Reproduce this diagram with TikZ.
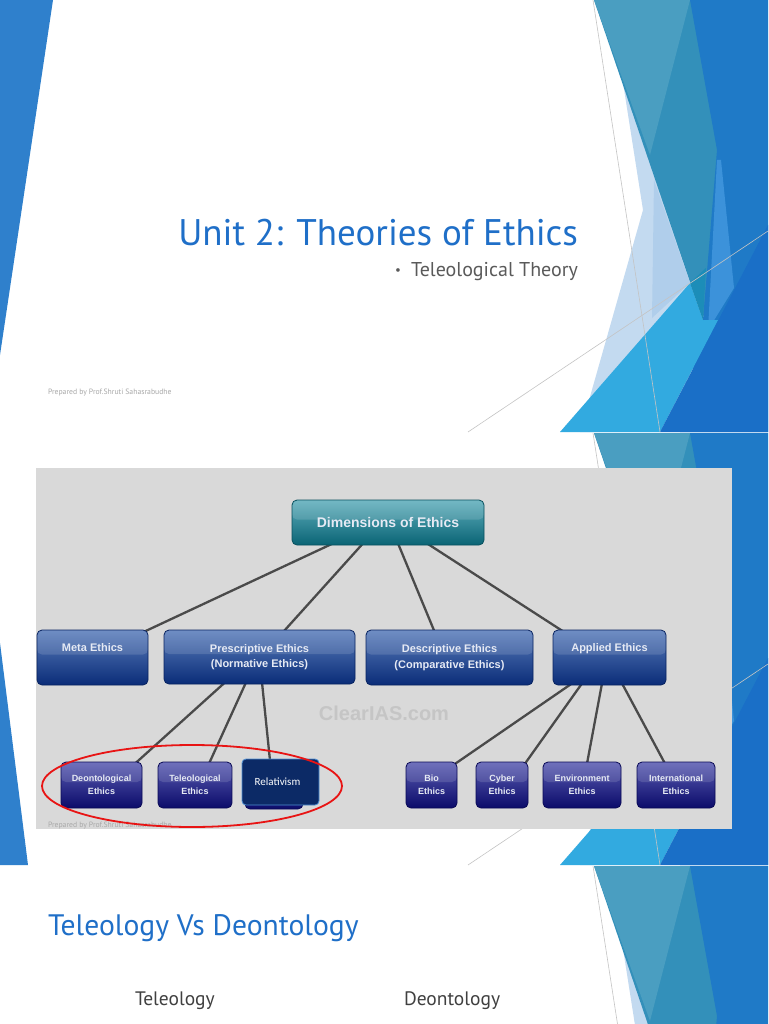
\documentclass[tikz,border=0pt]{standalone}
\usepackage{fontspec}
\setmainfont{PT Sans}
\newfontfamily\arialf{Liberation Sans}
\newfontfamily\calibf{Carlito}
\pgfdeclarelayer{back}
\pgfdeclarelayer{mid}
\pgfsetlayers{back,mid,main}
\definecolor{palec}{HTML}{C3DAF0}
\definecolor{palem}{HTML}{B0CEEB}
\definecolor{tealdk}{HTML}{3390BA}
\definecolor{teallt}{HTML}{4A9EC1}
\definecolor{bluem}{HTML}{1F7AC7}
\definecolor{bluelt}{HTML}{3C92DA}
\definecolor{cyanc}{HTML}{32AAE0}
\definecolor{tealcy}{HTML}{1C8DB8}
\definecolor{blued}{HTML}{1A6FC7}
\definecolor{greyln}{HTML}{C4C4C4}
\definecolor{leftb}{HTML}{2F80CC}
\definecolor{titleblue}{HTML}{1F6FC8}
\definecolor{subgrey}{HTML}{5A5A5A}
\definecolor{prepgrey}{HTML}{A8A8A8}
\definecolor{picgrey}{HTML}{D9D9D9}
\definecolor{wmgrey}{HTML}{C5C5C5}
\definecolor{connc}{HTML}{4A4A4A}
\definecolor{ringred}{HTML}{E81414}
\definecolor{navyA}{HTML}{5A5CB2}
\definecolor{navyB}{HTML}{17177E}
\definecolor{navyC}{HTML}{0B0B6A}
\definecolor{blueA}{HTML}{5A7DBB}
\definecolor{blueB}{HTML}{163F8F}
\definecolor{blueC}{HTML}{0A2C78}
\definecolor{tealA}{HTML}{5FAEBC}
\definecolor{tealB}{HTML}{14788A}
\definecolor{tealC}{HTML}{0A6475}
\definecolor{relfill}{HTML}{0C2A66}
\definecolor{relborder}{HTML}{4F8FD2}
\definecolor{boxtext}{HTML}{E6EAF4}
\definecolor{bodytext}{HTML}{404040}
\newcommand\facetdeco{%
  \fill[palec] (610,0) -- (643,210) -- (580,432) -- (768,432) -- (768,0) -- cycle;
  \fill[tealdk] (594,0) -- (748,0) -- (703,320) -- cycle;
  \fill[teallt] (594,0) -- (690,0) -- (650,155) -- cycle;
  \fill[palem] (654,180) -- (690,283) -- (652,318) -- cycle;
  \fill[bluem] (690,0) -- (768,0) -- (768,432) -- (680,432) -- (703,320) -- (717,150) -- cycle;
  \fill[bluelt] (717,160) -- (721,160) -- (734,288) -- (708,330) -- cycle;
  \fill[cyanc] (560,432) -- (690,283) -- (703,320) -- (718,320) -- (660,432) -- cycle;
  \fill[tealcy] (690,283) -- (706,268) -- (703,320) -- cycle;
  \fill[blued] (660,432) -- (768,225) -- (768,432) -- cycle;
  \draw[greyln, line width=0.6pt] (593,0) -- (660,432);
  \draw[greyln, line width=0.6pt] (468,432) -- (768,231);
}
\begin{document}
\begin{tikzpicture}[x=1pt,y=-1pt,
  txt/.style={inner sep=0pt, outer sep=0pt},
  gloss/.style={path picture={\fill[white, opacity=0.13]
      (path picture bounding box.north west) rectangle ([yshift=3pt]path picture bounding box.east);}},
  topbox/.style={rounded corners=5pt, draw=blueC!80!black, line width=0.8pt,
    top color=blueA, middle color=blueB, bottom color=blueC, text=boxtext, gloss,
    font=\arialf\bfseries\fontsize{11}{15.5}\selectfont, align=center, inner sep=0pt,
    minimum height=55pt},
  lowbox/.style={rounded corners=5pt, draw=navyC!80!black, line width=0.8pt,
    top color=navyA, middle color=navyB, bottom color=navyC, text=boxtext, gloss,
    font=\arialf\bfseries\fontsize{9}{13}\selectfont, align=center, inner sep=0pt,
    minimum height=46pt},
  dimbox/.style={rounded corners=5pt, draw=tealC!80!black, line width=0.8pt,
    top color=tealA, middle color=tealB, bottom color=tealC, text=boxtext, gloss,
    font=\arialf\bfseries\fontsize{14}{16}\selectfont, align=center, inner sep=0pt,
    minimum height=45pt, minimum width=192pt},
  relbox/.style={rounded corners=4pt, draw=relborder, line width=0.8pt, fill=relfill,
    minimum width=77pt, minimum height=46pt, inner sep=0pt, text=white,
    font=\calibf\fontsize{11}{13}\selectfont},
  conn/.style={draw=connc, line width=2.3pt},
]
\useasboundingbox (0,0) rectangle (768,1024);
\begin{pgfonlayer}{back}
\fill[white] (0,0) rectangle (768,1024);
% slide 1
\begin{scope}
  \clip (0,0) rectangle (768,432);
  \facetdeco
  \fill[leftb] (0,0) -- (53,0) -- (0,355) -- cycle;
\end{scope}
% slide 2
\begin{scope}[shift={(0,433)}]
  \clip (0,0) rectangle (768,432);
  \facetdeco
  \fill[leftb] (0,210) -- (28,432) -- (0,432) -- cycle;
\end{scope}
\fill[picgrey] (36,468) rectangle (732,829);
% slide 3
\begin{scope}[shift={(0,866)}]
  \clip (0,0) rectangle (768,158);
  \facetdeco
\end{scope}
\end{pgfonlayer}

% ---------------- slide 1 text ----------------
\node[txt, anchor=base east, text=titleblue, font=\fontsize{37}{40}\selectfont] (title) at (578,245) {Unit 2: Theories of Ethics};
\node[txt, anchor=base east, text=subgrey, font=\fontsize{20}{22}\selectfont] (sub) at (578,276) {Teleological Theory};
\node[txt, anchor=base east, text=subgrey, font=\fontsize{13}{14}\selectfont] (bul) at (401,274) {\textbullet};
\node[txt, anchor=base west, text=prepgrey, font=\fontsize{7.7}{9}\selectfont] (prep1) at (48,394) {Prepared by Prof.Shruti Sahasrabudhe};

% ---------------- slide 2 diagram ----------------
\node[txt, text=wmgrey, font=\arialf\bfseries\fontsize{20}{21}\selectfont] (wm) at (384,713) {ClearIAS.com};
\path
  (388,522.5) node[dimbox] (dim) {Dimensions of Ethics}
  (92.5,657.5) node[topbox, minimum width=111pt] (meta) {Meta Ethics\\\strut}
  (259.5,657) node[topbox, minimum width=191pt, minimum height=54pt] (presc) {Prescriptive Ethics\\(Normative Ethics)}
  (449.5,657.5) node[topbox, minimum width=167pt] (desc) {Descriptive Ethics\\(Comparative Ethics)}
  (609.5,657.5) node[topbox, minimum width=113pt] (appl) {Applied Ethics\\\strut}
  (101.5,785) node[lowbox, minimum width=81pt] (deon) {Deontological\\Ethics}
  (195,785) node[lowbox, minimum width=74pt] (tele) {Teleological\\Ethics}
  (431.5,785) node[lowbox, minimum width=51pt] (bio) {Bio\\Ethics}
  (502,785) node[lowbox, minimum width=52pt] (cyber) {Cyber\\Ethics}
  (582,785) node[lowbox, minimum width=78pt] (env) {Environment\\Ethics}
  (676,785) node[lowbox, minimum width=78pt] (intl) {International\\Ethics};
\node[lowbox, minimum width=58pt, minimum height=44pt] (relold) at (274,787) {};
\node[relbox] (rel) at (280.5,782) {\hspace*{-6pt}Relativism};

\begin{pgfonlayer}{mid}
\draw[conn] ([xshift=-55pt,yshift=2pt]dim.south) -- ([xshift=-4pt,yshift=-2pt]meta.north east);
\draw[conn] ([xshift=-25pt,yshift=2pt]dim.south) -- ([xshift=24pt,yshift=-2pt]presc.north);
\draw[conn] ([xshift=10pt,yshift=2pt]dim.south) -- ([xshift=-15pt,yshift=-2pt]desc.north);
\draw[conn] ([xshift=39pt,yshift=2pt]dim.south) -- ([xshift=-46pt,yshift=-2pt]appl.north);
\draw[conn] ([xshift=-34.5pt,yshift=2pt]presc.south) -- ([xshift=33.5pt,yshift=-2pt]deon.north);
\draw[conn] ([xshift=-13.5pt,yshift=2pt]presc.south) -- ([xshift=14pt,yshift=-2pt]tele.north);
\draw[conn] ([xshift=2.5pt,yshift=2pt]presc.south) -- ([xshift=-10.5pt,yshift=-2pt]rel.north);
\draw[conn] ([xshift=-37.5pt,yshift=2pt]appl.south) -- ([xshift=-2pt,yshift=-2pt]bio.north east);
\draw[conn] ([xshift=-27.5pt,yshift=2pt]appl.south) -- ([xshift=23pt,yshift=-2pt]cyber.north);
\draw[conn] ([xshift=-7.5pt,yshift=2pt]appl.south) -- ([xshift=5pt,yshift=-2pt]env.north);
\draw[conn] ([xshift=12.5pt,yshift=2pt]appl.south) -- ([xshift=-11pt,yshift=-2pt]intl.north);
\end{pgfonlayer}

\node[txt, anchor=base west, text=prepgrey, font=\fontsize{7.7}{9}\selectfont] (prep2) at (48,827) {Prepared by Prof.Shruti Sahasrabudhe};
\draw[ringred, line width=1.8pt] (192,786) ellipse [x radius=150, y radius=41];

% ---------------- slide 3 text ----------------
\node[txt, anchor=base west, text=titleblue, font=\fontsize{29.6}{33}\selectfont] (t3) at (48,935) {Teleology Vs Deontology};
\node[txt, anchor=base west, text=bodytext, font=\fontsize{19.5}{21}\selectfont] (telh) at (135,1005) {Teleology};
\node[txt, anchor=base west, text=bodytext, font=\fontsize{19.5}{21}\selectfont] (deoh) at (404,1005) {Deontology};
\end{tikzpicture}
\end{document}
